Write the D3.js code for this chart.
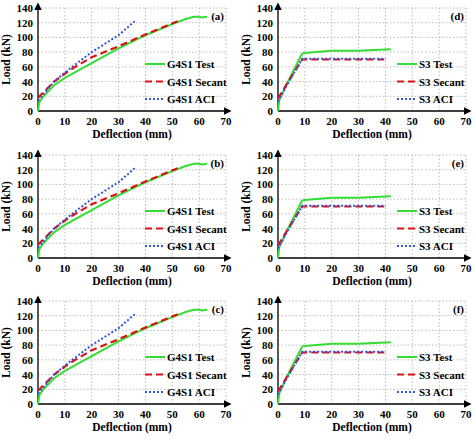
<!DOCTYPE html><html><head><script src="https://d3js.org/d3.v7.min.js"></script>
<style>body{margin:0;background:#fff}text{font-family:"Liberation Serif","Times New Roman",serif;font-weight:bold}</style></head><body><svg id="c" width="474" height="440"></svg>
<script>
const xTicks=[0,10,20,30,40,50,60,70];
const yTicks=[0,20,40,60,80,100,120,140];
const g4Test=[[0,0],[0.5,12],[2,20],[6,35],[10,45],[20,65],[30,85],[40,103],[50,118],[55,125],[58,128],[60,128],[61,127],[63,128]];
const g4Secant=[[0,18],[6,40],[12,56],[20,73],[30,88],[40,104],[52,122]];
const g4Aci=[[0,14],[6,40],[12,58],[20,80],[30,103],[36,122]];
const s3Test=[[0,0],[0.5,15],[3,35],[9,78],[10,79],[20,82],[30,82],[42,84]];
const s3Secant=[[0,17],[3,35],[9,70],[40,70]];
const s3Aci=[[0,13],[3,33],[9,71],[40,71]];
const panels=[
 {lab:"(a)",n:"G4S1",d:[g4Test,g4Secant,g4Aci],x:0,y:0},
 {lab:"(b)",n:"G4S1",d:[g4Test,g4Secant,g4Aci],x:0,y:147},
 {lab:"(c)",n:"G4S1",d:[g4Test,g4Secant,g4Aci],x:0,y:293},
 {lab:"(d)",n:"S3",d:[s3Test,s3Secant,s3Aci],x:240,y:0},
 {lab:"(e)",n:"S3",d:[s3Test,s3Secant,s3Aci],x:240,y:147},
 {lab:"(f)",n:"S3",d:[s3Test,s3Secant,s3Aci],x:240,y:293}];
const styles=[{c:"#33dd33",da:null,w:2,t:"Test"},{c:"#dd1111",da:"7,4",w:2.2,t:"Secant"},{c:"#3355dd",da:"2,2",w:2,t:"ACI"}];
const svg=d3.select("#c");
svg.append("defs").append("marker").attr("id","ar").attr("viewBox","0 0 10 10").attr("refX",8).attr("refY",5)
 .attr("markerWidth",6).attr("markerHeight",6).attr("orient","auto").append("path").attr("d","M0,0L10,5L0,10z").attr("fill","#000");
panels.forEach(p=>{
 const g=svg.append("g").attr("transform",`translate(${p.x},${p.y})`);
 const x0=p.x?38:38;
 const x=d3.scaleLinear().domain([0,70]).range([x0,x0+188]);
 const y=d3.scaleLinear().domain([0,140]).range([111,8]);
 xTicks.slice(1).forEach(t=>g.append("line").attr("x1",x(t)).attr("x2",x(t)).attr("y1",y(0)).attr("y2",y(140)).attr("stroke","#bbb").attr("stroke-dasharray","1.5,2"));
 yTicks.slice(1).forEach(t=>g.append("line").attr("x1",x(0)).attr("x2",x(70)).attr("y1",y(t)).attr("y2",y(t)).attr("stroke","#bbb").attr("stroke-dasharray","1.5,2"));
 g.append("line").attr("x1",x(0)).attr("x2",x(70)+4).attr("y1",y(0)).attr("y2",y(0)).attr("stroke","#000").attr("stroke-width",1.3).attr("marker-end","url(#ar)");
 g.append("line").attr("x1",x(0)).attr("x2",x(0)).attr("y1",y(0)).attr("y2",y(140)-4).attr("stroke","#000").attr("stroke-width",1.3).attr("marker-end","url(#ar)");
 xTicks.forEach(t=>g.append("text").attr("x",x(t)).attr("y",y(0)+14).attr("text-anchor","middle").attr("font-size",11).text(t));
 yTicks.forEach(t=>g.append("text").attr("x",x(0)-5).attr("y",y(t)+4).attr("text-anchor","end").attr("font-size",11).text(t));
 g.append("text").attr("x",x(35)).attr("y",138).attr("text-anchor","middle").attr("font-size",11.5).text("Deflection (mm)");
 g.append("text").attr("transform",`translate(10,${y(70)}) rotate(-90)`).attr("text-anchor","middle").attr("font-size",11.5).text("Load (kN)");
 g.append("text").attr("x",x(70)-2).attr("y",20).attr("text-anchor","end").attr("font-size",11).text(p.lab);
 const line=d3.line().x(d=>x(d[0])).y(d=>y(d[1]));
 p.d.forEach((d,i)=>g.append("path").attr("d",line(d)).attr("fill","none").attr("stroke",styles[i].c).attr("stroke-width",styles[i].w).attr("stroke-dasharray",styles[i].da));
 const lx=p.x?157:145;
 styles.forEach((s,i)=>{const ly=64+i*17.5;
  g.append("line").attr("x1",lx).attr("x2",lx+20).attr("y1",ly).attr("y2",ly).attr("stroke",s.c).attr("stroke-width",s.w).attr("stroke-dasharray",s.da);
  g.append("text").attr("x",lx+22).attr("y",ly+4).attr("font-size",11).text(p.n+" "+s.t);});
});
</script></body></html>
